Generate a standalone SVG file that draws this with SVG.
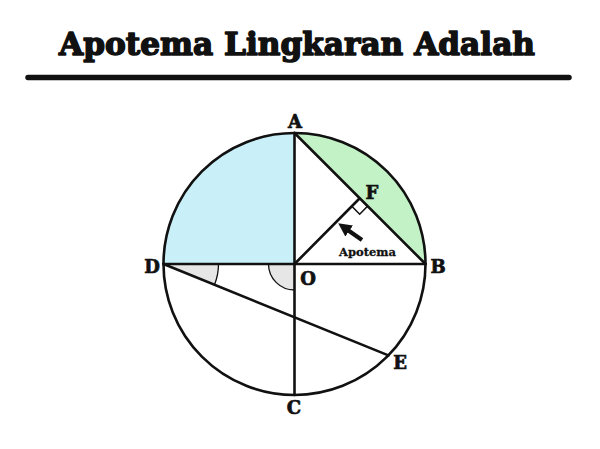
<svg xmlns="http://www.w3.org/2000/svg" width="600" height="449" viewBox="0 0 600 449">
<style>
.lbl{font-family:"DejaVu Serif","Liberation Serif",serif;font-weight:bold;font-size:18px;fill:#111;stroke:#111;stroke-width:0.7;text-anchor:middle}
.ln{stroke:#111;stroke-width:2.6;fill:none;stroke-linecap:round}
.ang{fill:#e6e6e6;stroke:none}
.arc{stroke:#111;stroke-width:1.3;fill:none}
</style>
<defs>
<marker id="ah" viewBox="0 0 10 10" refX="2" refY="5" markerWidth="3.2" markerHeight="3.2" orient="auto">
<path d="M0,0 L10,5 L0,10 Z" fill="#111"/>
</marker>
</defs>
<rect width="600" height="449" fill="#fff"/>
<g id="title">
<text x="297" y="55" font-family="DejaVu Serif, Liberation Serif, serif" font-weight="bold" font-size="32" text-anchor="middle" textLength="476" lengthAdjust="spacingAndGlyphs" fill="#111" stroke="#111" stroke-width="1.6" stroke-linejoin="round">Apotema Lingkaran Adalah</text>
<line x1="28" y1="77.5" x2="569" y2="77.5" stroke="#111" stroke-width="5.5" stroke-linecap="round"/>
</g>
<g id="regions">
<path d="M294.5 264 L163.5 264 A131 131 0 0 1 294.5 133 Z" fill="#c9f0f9"/>
<path d="M294.5 133 A131 131 0 0 1 425.5 264 Z" fill="#c3f2c6"/>
<path class="ang" d="M163.5 264 L218.5 264 A55 55 0 0 1 214.5 284.7 Z"/>
<path class="ang" d="M294.5 264 L268.5 264 A26 26 0 0 0 294.5 290 Z"/>
<path class="arc" d="M218.5 264 A55 55 0 0 1 214.5 284.7"/>
<path class="arc" d="M268.5 264 A26 26 0 0 0 294.5 290"/>
</g>
<g id="connectors">
<circle cx="294.5" cy="264" r="131" class="ln"/>
<line class="ln" x1="294.5" y1="133" x2="294.5" y2="395"/>
<line class="ln" x1="163.5" y1="264" x2="425.5" y2="264"/>
<line class="ln" x1="294.5" y1="133" x2="425.5" y2="264"/>
<line class="ln" x1="294.5" y1="264" x2="359.5" y2="198.5"/>
<line class="ln" x1="163.5" y1="264" x2="388.4" y2="355.4"/>
<path d="M351.8 206.3 L359.7 214.2 L367.5 206.3" fill="none" stroke="#111" stroke-width="1.6"/>
<line x1="362" y1="240" x2="347" y2="229.5" stroke="#111" stroke-width="4.2" marker-end="url(#ah)"/>
</g>
<g id="labels">
<text class="lbl" x="295" y="128">A</text>
<text class="lbl" x="152" y="273">D</text>
<text class="lbl" x="438" y="273">B</text>
<text class="lbl" x="308" y="285">O</text>
<text class="lbl" x="372" y="199">F</text>
<text class="lbl" x="400" y="369">E</text>
<text class="lbl" x="294" y="414">C</text>
<text x="367.5" y="256" font-family="DejaVu Serif, Liberation Serif, serif" font-weight="bold" font-size="11.5" text-anchor="middle" fill="#111" stroke="#111" stroke-width="0.3">Apotema</text>
</g>
</svg>
